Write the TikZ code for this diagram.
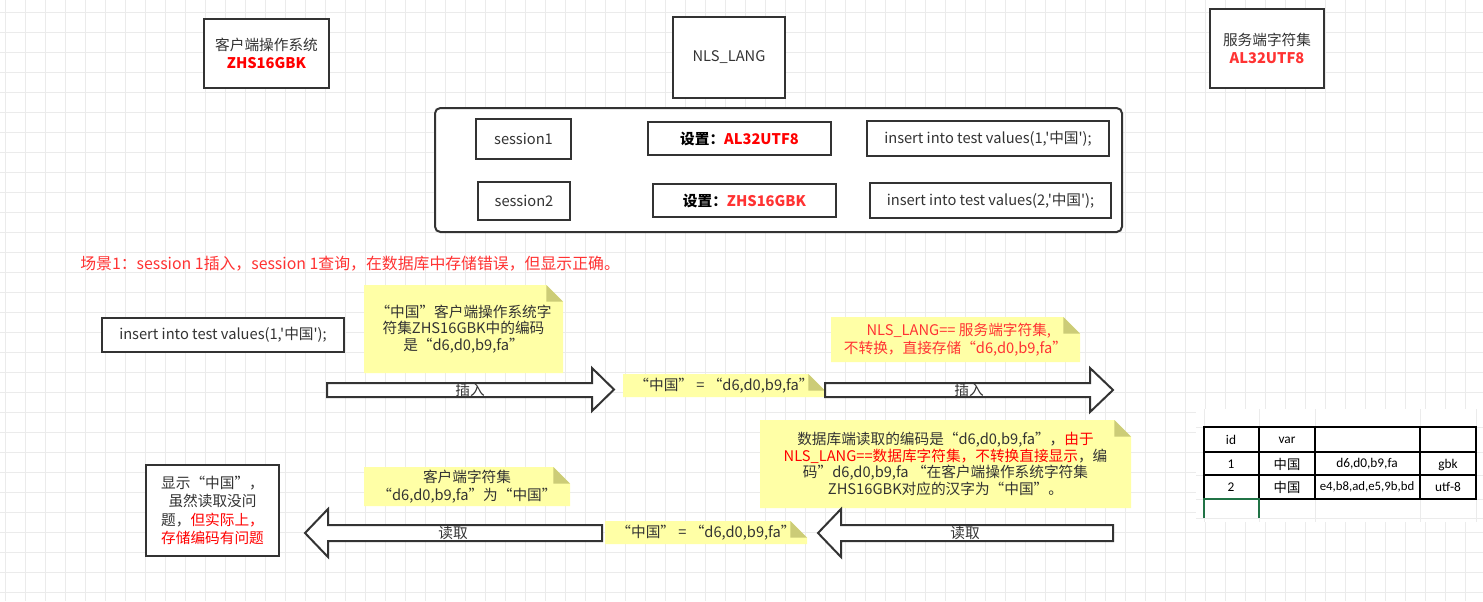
\documentclass[tikz,border=0pt]{standalone}
\usepackage{fontspec}
\setmainfont{Noto Sans CJK SC}[Ligatures=TeXOff]
\newfontfamily\tabfont{Carlito}[Ligatures=TeXOff]
\usetikzlibrary{fit}
\definecolor{ink}{HTML}{333333}
\definecolor{redA}{HTML}{FF0000}
\definecolor{redB}{HTML}{FF3333}
\definecolor{notefill}{HTML}{FFFFA6}
\definecolor{foldfill}{HTML}{CCCC77}
\definecolor{gridc}{HTML}{EBEBEB}
\definecolor{xlgreen}{HTML}{217346}
\begin{document}
\begin{tikzpicture}[x=0.75pt,y=-0.75pt,
  font=\fontsize{11}{13.5}\selectfont, text=ink,
  box/.style={draw=ink, line width=1.5pt, fill=white, inner sep=0pt},
  note/.style={inner sep=0pt, path picture={
    \fill[notefill] (path picture bounding box.south west) -- (path picture bounding box.north west)
      -- ([xshift=-12.5pt]path picture bounding box.north east) -- ([yshift=-12.5pt]path picture bounding box.north east)
      -- (path picture bounding box.south east) -- cycle;
    \fill[foldfill] ([xshift=-12.5pt]path picture bounding box.north east)
      -- ([xshift=-12.5pt,yshift=-12.5pt]path picture bounding box.north east)
      -- ([yshift=-12.5pt]path picture bounding box.north east) -- cycle;}},
  barrow/.style={draw=ink, line width=1.5pt, fill=white, line join=miter},
  lbl/.style={inner sep=0pt},
  txt/.style={inner sep=0pt, align=center},
  tabtxt/.style={inner sep=0pt, text=black, font=\tabfont\fontsize{10}{12}\selectfont},
  tabline/.style={black, line width=0.8pt},
  faint/.style={gridc, line width=0.75pt}
]
\useasboundingbox (0,0) rectangle (1483,601);
\fill[white] (0,0) rectangle (1483,601);
% background grid
\foreach \gx in {5,25,...,1485} {\draw[faint] (\gx,0) -- (\gx,601);}
\foreach \gy in {12,32,...,600} {\draw[faint] (0,\gy) -- (1483,\gy);}

% top boxes
\node[box, fit={(204,19) (329,88)}] (client) {};
\node[txt] (clientT) at (client.center) {客户端操作系统\\\textcolor{redA}{\textbf{ZHS16GBK}}};
\node[box, fit={(673,17) (785,98)}] (nls) {};
\node[lbl] (nlsT) at (nls.center) {NLS\_LANG};
\node[box, fit={(1210,9) (1324,88)}] (server) {};
\node[txt] (serverT) at (server.center) {服务端字符集\\\textcolor{redB}{\textbf{AL32UTF8}}};

% session panel
\node[box, rounded corners=4pt, fit={(435,108) (1122,232)}] (panel) {};
\node[box, fit={(476,119) (571,159)}] (s1) {};
\node[lbl] (s1T) at (s1.center) {session1};
\node[box, fit={(648,122) (831,155)}] (set1) {};
\node[lbl] (set1T) at (set1.center) {\textcolor{black}{\textbf{设置：}}\textcolor{redA}{\textbf{AL32UTF8}}};
\node[box, fit={(867,121) (1109,156)}] (ins1box) {};
\node[lbl] (ins1T) at (ins1box.center) {insert into test values(1,'中国');};
\node[box, fit={(478,182) (570,220)}] (s2) {};
\node[lbl] (s2T) at (s2.center) {session2};
\node[box, fit={(653,184) (836,217)}] (set2) {};
\node[lbl] (set2T) at (set2.center) {\textcolor{black}{\textbf{设置：}}\textcolor{redB}{\textbf{ZHS16GBK}}};
\node[box, fit={(870,183) (1111,218)}] (ins2box) {};
\node[lbl] (ins2T) at (ins2box.center) {insert into test values(2,'中国');};

% scenario title
\node[lbl, anchor=west, text=redB, font=\fontsize{11.9}{13}\selectfont] (scene) at (80,264) {场景1：session 1插入，session 1查询，在数据库中存储错误，但显示正确。};

% insert row
\node[box, fit={(102,318) (344,352)}] (insq) {};
\node[lbl] (insqT) at (insq.center) {insert into test values(1,'中国');};
\node[note, fit={(364,285) (563,373)}] (n1) {};
\node[txt, font=\fontsize{11}{12.2}\selectfont] (n1T) at (n1.center) {“中国”客户端操作系统字\\符集ZHS16GBK中的编码\\是“d6,d0,b9,fa”};
\node[note, fit={(623,374) (825,397)}] (n2) {};
\node[lbl] (n2T) at (n2.center) {“中国” = “d6,d0,b9,fa”};
\node[note, fit={(831,317) (1080,362)}] (n3) {};
\node[txt, text=redB, font=\fontsize{11}{13.5}\selectfont] (n3T) at (n3.center) {\ \ NLS\_LANG== 服务端字符集,\\不转换，直接存储“d6,d0,b9,fa”};

% arrow 1 (right)
\draw[barrow] (327,383) -- (592,383) -- (592,368) -- (614,389.5) -- (592,411) -- (592,397) -- (327,397) -- cycle;
\node[lbl] (lab1) at (470,390) {插入};
% arrow 2 (right)
\draw[barrow] (825,383) -- (1090,383) -- (1090,368) -- (1113,390) -- (1090,412) -- (1090,397) -- (825,397) -- cycle;
\node[lbl] (lab2) at (969,390) {插入};

% read row
\node[note, fit={(760,420) (1131,508)}] (n4) {};
\node[txt, font=\fontsize{11}{12.6}\selectfont] (n4T) at (n4.center) {数据库端读取的编码是“d6,d0,b9,fa”，\textcolor{redA}{由于}\\\textcolor{redA}{NLS\_LANG==数据库字符集，不转换直接显示}，编\\码”d6,d0,b9,fa “在客户端操作系统字符集\\ZHS16GBK对应的汉字为“中国”。};
\node[note, fit={(364,467) (570,506)}] (n5) {};
\node[txt, font=\fontsize{11}{13.8}\selectfont] (n5T) at (n5.center) {客户端字符集\\“d6,d0,b9,fa”为“中国”};
\node[note, fit={(605,521) (807,544)}] (n6) {};
\node[lbl] (n6T) at (n6.center) {“中国” = “d6,d0,b9,fa”};
\node[box, fit={(146,465) (279,556)}] (show) {};
\node[txt, font=\fontsize{11}{13.8}\selectfont] (showT) at (show.center) {显示“中国”，\\虽然读取没问\\题，\textcolor{redA}{但实际上，}\\\textcolor{redA}{存储编码有问题}};

% arrow 3 (left)
\draw[barrow] (602,525) -- (328,525) -- (328,509) -- (305,533) -- (328,557) -- (328,541) -- (602,541) -- cycle;
\node[lbl] (lab3) at (453,533) {读取};
% arrow 4 (left)
\draw[barrow] (1113,525) -- (841,525) -- (841,509) -- (818,533) -- (841,557) -- (841,541) -- (1113,541) -- cycle;
\node[lbl] (lab4) at (965,533) {读取};

% embedded table
\fill[white] (1196,409) rectangle (1483,522);
\foreach \cx in {1204,1259,1315,1420,1476} {\draw[faint] (\cx,409) -- (\cx,522);}
\foreach \ry in {427,452,475,499,518} {\draw[faint] (1196,\ry) -- (1483,\ry);}
\draw[tabline] (1204,427) rectangle (1476,499);
\draw[tabline] (1204,452) -- (1476,452);
\draw[tabline] (1204,475) -- (1476,475);
\foreach \cx in {1259,1315,1420} {\draw[tabline] (\cx,427) -- (\cx,499);}
\draw[xlgreen, line width=1.3pt] (1204,518) -- (1204,499) -- (1259,499) -- (1259,518);
\node[tabtxt] (h1) at (1231,440) {id};
\node[tabtxt] (h2) at (1287,440) {var};
\node[tabtxt] (r11) at (1231,464) {1};
\node[lbl, text=black, font=\fontsize{10}{11}\selectfont] (r12) at (1287,464) {中国};
\node[tabtxt] (r13) at (1367,464) {d6,d0,b9,fa};
\node[tabtxt] (r14) at (1448,465) {gbk};
\node[tabtxt] (r21) at (1231,487) {2};
\node[lbl, text=black, font=\fontsize{10}{11}\selectfont] (r22) at (1287,487) {中国};
\node[tabtxt, font=\tabfont\fontsize{9.6}{12}\selectfont] (r23) at (1367,487) {e4,b8,ad,e5,9b,bd};
\node[tabtxt] (r24) at (1448,487) {utf-8};
\end{tikzpicture}
\end{document}
